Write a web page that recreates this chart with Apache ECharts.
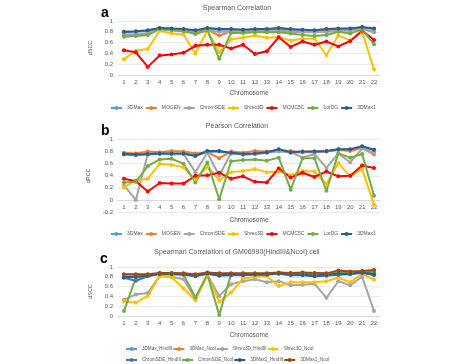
<!DOCTYPE html>
<html><head><meta charset="utf-8">
<script src="https://cdn.jsdelivr.net/npm/echarts@6/dist/echarts.min.js"></script>
<style>html,body{margin:0;padding:0;background:#fff}#c{width:474px;height:364px}</style>
</head><body><div id="c"></div>
<script>
const chromosomes = ['1','2','3','4','5','6','7','8','9','10','11','12','13','14','15','16','17','18','19','20','21','22'];

// Panel a: Spearman Correlation (dSCC)
const namesA = ['3DMax','MOGEN','ChromSDE','Shrec3D','MCMC5C','LorDG','3DMax1'];
const a_3DMax   = [0.79,0.80,0.82,0.86,0.85,0.84,0.82,0.86,0.84,0.84,0.83,0.84,0.84,0.86,0.84,0.83,0.82,0.84,0.85,0.85,0.88,0.85];
const a_MOGEN   = [0.75,0.75,0.77,0.85,0.84,0.83,0.80,0.84,0.73,0.81,0.82,0.82,0.82,0.83,0.81,0.80,0.80,0.82,0.83,0.83,0.86,0.79];
const a_ChromSDE= [0.74,0.75,0.77,0.85,0.83,0.82,0.78,0.83,0.80,0.80,0.81,0.81,0.81,0.82,0.80,0.79,0.79,0.80,0.82,0.82,0.85,0.80];
const a_Shrec3D = [0.29,0.45,0.48,0.82,0.77,0.75,0.40,0.83,0.42,0.66,0.69,0.73,0.69,0.70,0.64,0.67,0.67,0.37,0.73,0.64,0.80,0.10];
const a_MCMC5C  = [0.46,0.42,0.15,0.36,0.38,0.41,0.54,0.56,0.56,0.49,0.56,0.39,0.44,0.70,0.52,0.62,0.56,0.62,0.53,0.63,0.82,0.65];
const a_LorDG   = [0.71,0.72,0.74,0.85,0.83,0.81,0.76,0.83,0.30,0.78,0.78,0.79,0.79,0.79,0.77,0.74,0.72,0.74,0.80,0.77,0.84,0.57];
const a_3DMax1  = [0.80,0.81,0.83,0.87,0.86,0.85,0.83,0.87,0.85,0.85,0.84,0.85,0.85,0.87,0.85,0.84,0.83,0.85,0.86,0.86,0.89,0.86];

// Panel b: Pearson Correlation (dPCC)
const b_3DMax   = [0.75,0.74,0.75,0.76,0.76,0.76,0.73,0.79,0.80,0.77,0.75,0.76,0.78,0.83,0.78,0.79,0.79,0.80,0.83,0.83,0.88,0.82];
const b_MOGEN   = [0.78,0.77,0.80,0.79,0.81,0.80,0.77,0.79,0.69,0.80,0.78,0.81,0.80,0.82,0.81,0.79,0.80,0.80,0.83,0.81,0.86,0.75];
const b_ChromSDE= [0.24,0.00,0.76,0.77,0.75,0.76,0.46,0.78,0.40,0.78,0.75,0.76,0.78,0.80,0.79,0.70,0.76,0.53,0.77,0.62,0.85,0.78];
const b_Shrec3D = [0.21,0.32,0.35,0.60,0.58,0.54,0.33,0.55,0.33,0.46,0.48,0.51,0.46,0.47,0.41,0.48,0.47,0.26,0.61,0.39,0.51,-0.08];
const b_MCMC5C  = [0.35,0.31,0.14,0.28,0.27,0.27,0.40,0.41,0.45,0.35,0.39,0.30,0.29,0.52,0.37,0.45,0.38,0.47,0.39,0.40,0.57,0.53];
const b_LorDG   = [0.29,0.30,0.56,0.67,0.68,0.60,0.29,0.62,0.01,0.64,0.66,0.67,0.65,0.70,0.17,0.69,0.69,0.15,0.77,0.70,0.76,0.07];
const b_3DMax1  = [0.76,0.75,0.76,0.77,0.77,0.77,0.73,0.81,0.81,0.78,0.76,0.77,0.79,0.84,0.79,0.80,0.80,0.81,0.84,0.84,0.89,0.83];

// Panel c: Spearman Correlation of GM06990 (dSCC)
const namesC = ['3DMax_HindIII','3DMax_NcoI','Shrec3D_HindIII','Shrec3D_NcoI','ChromSDE_HindIII','ChromSDE_NcoI','3DMax1_HindIII','3DMax1_NcoI'];
const c_3DMax_H   = [0.80,0.79,0.82,0.86,0.86,0.85,0.82,0.86,0.83,0.84,0.84,0.85,0.85,0.86,0.84,0.84,0.82,0.83,0.85,0.86,0.89,0.86];
const c_3DMax_N   = [0.84,0.84,0.84,0.87,0.87,0.86,0.84,0.88,0.86,0.86,0.86,0.86,0.86,0.88,0.87,0.87,0.87,0.86,0.91,0.89,0.91,0.92];
const c_Shrec3D_H = [0.33,0.44,0.47,0.82,0.80,0.75,0.35,0.84,0.41,0.65,0.71,0.75,0.69,0.71,0.63,0.64,0.66,0.37,0.71,0.63,0.80,0.10];
const c_Shrec3D_N = [0.30,0.27,0.41,0.81,0.79,0.56,0.32,0.83,0.29,0.48,0.76,0.80,0.81,0.61,0.69,0.69,0.69,0.71,0.78,0.69,0.86,0.74];
const c_ChromSDE_H= [0.78,0.72,0.81,0.86,0.85,0.84,0.81,0.86,0.82,0.83,0.83,0.84,0.84,0.86,0.83,0.83,0.81,0.82,0.84,0.85,0.88,0.83];
const c_ChromSDE_N= [0.10,0.78,0.82,0.85,0.86,0.84,0.38,0.85,0.02,0.86,0.85,0.86,0.85,0.87,0.86,0.86,0.84,0.85,0.90,0.87,0.91,0.90];
const c_3DMax1_H  = [0.79,0.80,0.82,0.86,0.86,0.85,0.82,0.87,0.83,0.85,0.84,0.85,0.85,0.87,0.85,0.84,0.82,0.84,0.86,0.86,0.89,0.85];
const c_3DMax1_N  = [0.85,0.85,0.85,0.88,0.88,0.87,0.85,0.89,0.87,0.87,0.87,0.87,0.87,0.89,0.88,0.89,0.88,0.87,0.93,0.91,0.92,0.94];

const colorsA = ['#5b9bd5','#ed7d31','#a5a5a5','#ffc000','#ff0000','#70ad47','#255e91'];
const colorsC = ['#5b9bd5','#ed7d31','#a5a5a5','#ffc000','#4472c4','#70ad47','#255e91','#9e480e'];

const dataA = [a_3DMax,a_MOGEN,a_ChromSDE,a_Shrec3D,a_MCMC5C,a_LorDG,a_3DMax1];
const dataB = [b_3DMax,b_MOGEN,b_ChromSDE,b_Shrec3D,b_MCMC5C,b_LorDG,b_3DMax1];
const dataC = [c_3DMax_H,c_3DMax_N,c_Shrec3D_H,c_Shrec3D_N,c_ChromSDE_H,c_ChromSDE_N,c_3DMax1_H,c_3DMax1_N];

const FONT = 'Liberation Sans';
const gray = '#595959';

function mkSeries(names, datas, colors, idx){
  return names.map((n,i)=>({
    name:n, type:'line', xAxisIndex:idx, yAxisIndex:idx,
    data:datas[i], symbol:'circle', symbolSize:4,
    lineStyle:{width:2,color:colors[i]}, itemStyle:{color:colors[i]},
    emphasis:{disabled:true}, animation:false
  }));
}
function xAx(idx, gap, offset){
  return {type:'category', gridIndex:idx, data:chromosomes, boundaryGap:true, offset:offset,
    axisLine:{onZero:false,lineStyle:{color:'#d9d9d9'}}, axisTick:{show:false},
    axisLabel:{color:gray,fontSize:6,fontFamily:FONT,margin:4,interval:0},
    name:'Chromosome', nameLocation:'middle', nameGap:gap,
    nameTextStyle:{color:gray,fontSize:6.5,fontFamily:FONT}};
}
function yAx(idx,min,name){
  return {type:'value', gridIndex:idx, min:min, max:1, interval:0.2,
    axisLine:{show:false}, axisTick:{show:false},
    splitLine:{lineStyle:{color:'#e6e6e6',width:0.8}},
    axisLabel:{color:gray,fontSize:6,fontFamily:FONT,margin:5,formatter:v=>String(Math.round(v*10)/10)},
    name:name, nameLocation:'middle', nameGap:13, nameRotate:90,
    nameTextStyle:{color:gray,fontSize:5.5,fontFamily:FONT}};
}
const legendText = {color:gray,fontSize:5,fontFamily:FONT};
const legendTextC = {color:gray,fontSize:4.6,fontFamily:FONT,width:41};
const lg = {itemWidth:11,itemHeight:5,padding:0,selectedMode:false};

const titleStyle = {color:gray,fontSize:7,fontWeight:'normal',fontFamily:FONT};
const letterStyle = {color:'#000',fontSize:14,fontWeight:'bold',fontFamily:FONT};

const option = {
  backgroundColor:'#fff', animation:false,
  title:[
    {text:'Spearman Correlation',left:'center',top:5,padding:0,textStyle:titleStyle},
    {text:'Pearson Correlation',left:'center',top:123,padding:0,textStyle:titleStyle},
    {text:'Spearman Correlation of GM06990(HindIII&NcoI) cell',left:'center',top:249,padding:0,textStyle:titleStyle},
    {text:'a',left:101,top:6,padding:0,textStyle:letterStyle},
    {text:'b',left:101,top:124,padding:0,textStyle:letterStyle},
    {text:'c',left:100,top:252,padding:0,textStyle:letterStyle}
  ],
  grid:[
    {left:118,right:94,top:21,height:54},
    {left:118,right:94,top:139.5,height:72.5},
    {left:118,right:94,top:267,height:49}
  ],
  xAxis:[xAx(0,15,0),xAx(1,17,-72.5/6),xAx(2,16,0)],
  yAxis:[yAx(0,0,'dSCC'),yAx(1,-0.2,'dPCC'),yAx(2,0,'dSCC')],
  legend:[
    Object.assign({data:namesA,left:110,top:105.5,itemGap:2,textStyle:legendText},lg),
    Object.assign({data:namesA,left:110,top:231.5,itemGap:2,textStyle:legendText},lg),
    Object.assign({data:namesC.slice(0,4),left:125,top:346.5,itemGap:0,textStyle:legendTextC},lg),
    Object.assign({data:namesC.slice(4),left:125,top:357.5,itemGap:0,textStyle:legendTextC},lg)
  ],
  series:[].concat(mkSeries(namesA,dataA,colorsA,0), mkSeries(namesA,dataB,colorsA,1), mkSeries(namesC,dataC,colorsC,2))
};
const chart = echarts.init(document.getElementById('c'),null,{renderer:'canvas'});
chart.setOption(option);
</script></body></html>
